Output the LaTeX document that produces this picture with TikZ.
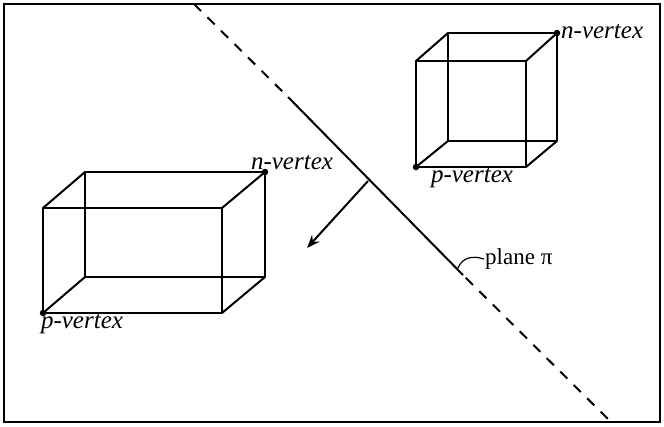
\documentclass[tikz,border=0pt]{standalone}
\usepackage{fontspec}
\setmainfont{Liberation Serif}
\usetikzlibrary{arrows.meta}
\begin{document}
\begin{tikzpicture}[x=1pt,y=-1pt,
  edge/.style={line width=2pt,line join=round},
  vlabel/.style={font=\itshape\fontsize{25}{25}\selectfont,inner sep=1pt},
  dot/.style={circle,fill=black,inner sep=0pt,minimum size=6.5pt}]
\useasboundingbox (0,0) rectangle (664,426);
\draw[line width=2pt] (4,4) rectangle (660,422);
% plane
\coordinate (p0) at (194,4);
\coordinate (p1) at (288,97);
\coordinate (p2) at (463,275);
\coordinate (p3) at (610,421);
\draw[line width=2pt,dash pattern=on 10pt off 9pt] (p0) -- (p1);
\draw[line width=2pt] (p1) -- (p2);
\draw[line width=2pt,dash pattern=on 10pt off 9pt,dash phase=-4pt] (p2) -- (p3);
\coordinate (a0) at (368,181);
\coordinate (a1) at (307,248);
\draw[line width=2pt,-{Stealth[length=13pt,width=10pt]}] (a0) -- (a1);
\coordinate (l0) at (458,268);
\node[font=\fontsize{23}{23}\selectfont,anchor=west,inner sep=1pt] (pl) at (484,259) {plane π};
\draw[line width=1.2pt] (l0) .. controls (462,258) and (472,255) .. (pl.west);
% cube
\draw[edge] (448,33) rectangle (557,141);
\draw[edge] (416,61) rectangle (526,167);
\draw[edge] (448,33)--(416,61) (557,33)--(526,61) (557,141)--(526,167) (448,141)--(416,167);
\node[dot] (cn) at (557,33) {};
\node[dot] (cp) at (416,167) {};
\node[vlabel,anchor=west] at (560,32) {n-vertex};
\node[vlabel,anchor=north] at (472,167) {p-vertex};
% box
\draw[edge] (85,172) rectangle (265,277);
\draw[edge] (43,208) rectangle (222,313);
\draw[edge] (85,172)--(43,208) (265,172)--(222,208) (265,277)--(222,313) (85,277)--(43,313);
\node[dot] (bn) at (265,172) {};
\node[dot] (bp) at (43,313) {};
\node[vlabel,anchor=south] at (292,171) {n-vertex};
\node[vlabel,anchor=north] at (82,313) {p-vertex};
\end{tikzpicture}
\end{document}
